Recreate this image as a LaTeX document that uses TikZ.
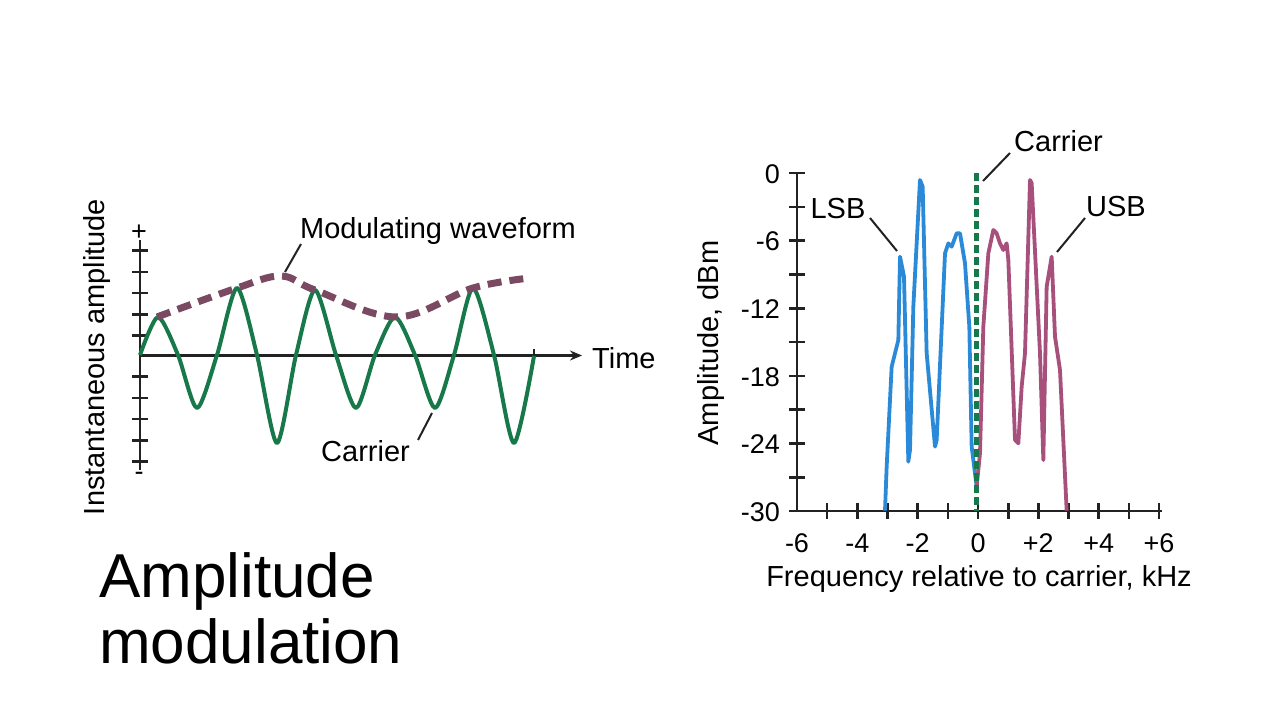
\documentclass[tikz,border=0pt]{standalone}
\usepackage{fontspec}
\setmainfont{Liberation Sans}
\usetikzlibrary{arrows.meta}
\definecolor{carg}{HTML}{17784A}
\definecolor{envc}{HTML}{7A4A62}
\definecolor{lsbc}{HTML}{2A8AD8}
\definecolor{usbc}{HTML}{A8507C}
\definecolor{axc}{HTML}{222222}
\tikzset{lbl/.style={inner sep=0pt,font=\fontsize{29}{33}\selectfont},
 tl/.style={inner sep=0pt,font=\fontsize{27}{31}\selectfont},
 ax/.style={draw=axc,line width=2.6pt},
 lead/.style={draw=axc,line width=2pt}}
\begin{document}
\begin{tikzpicture}[x=1pt,y=-1pt]
\useasboundingbox (0,0) rectangle (1280,720);
% ---------- left plot
\foreach \y in {250.7,271.9,293,314.2,335.3,376.7,397.9,419,440.2,461.4} \draw[ax] (132,\y)--(148,\y);
\draw[ax] (140,240)--(140,470);
\node[tl] (plus) at (139,233) {+};
\node[tl] (minus) at (139,476) {-};
\draw[ax,-{Stealth[length=12pt,width=10pt]}] (140,355.5)--(582,355.5);
\draw[ax] (534,349)--(534,362);
\node[lbl,anchor=west] (time) at (592,358) {Time};
\node[lbl,rotate=90] (inst) at (97,357) {Instantaneous amplitude};
\draw[carg,line width=4pt,line join=round] plot[smooth,tension=0.45] coordinates {(140,355)(158,317)(178,355)(197,408)(217,355)(237,288)(257,355)(277,443)(296,355)(315,290)(336,355)(356,408)(375,355)(395,317)(415,355)(435,408)(454,355)(473,288)(494,355)(514,443)(534,356)};
\draw[envc,line width=7pt,dash pattern=on 14pt off 8pt] plot[smooth,tension=0.6] coordinates {(157,317)(237,288)(281,276)(315,290)(397,317)(473,288)(530,278)};
\node[lbl,anchor=west] (modw) at (300,231) {Modulating waveform};
\coordinate (modp) at (285,272);
\draw[lead] (301,244)--(modp);
\node[lbl,anchor=west] (carl) at (321,451) {Carrier};
\coordinate (carp) at (432,413);
\draw[lead] (418,440)--(carp);
\node[inner sep=0pt,anchor=west,align=left,font=\fontsize{62}{66}\selectfont] (title) at (99,608) {Amplitude\\modulation};
% ---------- right plot
\foreach \i in {0,...,10} \draw[ax] (789,173+\i*33.8)--(805,173+\i*33.8);
\foreach \i in {1,...,12} \draw[ax] (797+\i*30.17,503)--(797+\i*30.17,519);
\draw[ax] (797,173)--(797,511)--(1162,511);
\foreach \v/\i in {0/0,-6/2,-12/4,-18/6,-24/8,-30/10} \node[tl,anchor=east] at (780,174+\i*33.8) {\v};
\foreach \v/\i in {-6/0,-4/2,-2/4,0/6,+2/8,+4/10,+6/12} \node[tl] at (797+\i*30.17,543) {\v};
\node[lbl] (freq) at (979,579) {Frequency relative to carrier, kHz};
\node[lbl,rotate=90] (ampl) at (711,343) {Amplitude, dBm};
\begin{scope}[shift={(700,120)},scale=1/3]
\draw[lsbc,line width=3.8pt,line join=round] plot coordinates {(555,1172)(560,1040)(575,740)(595,660)(600,410)(612,470)(625,1025)(630,990)(640,560)(660,180)(668,200)(680,700)(705,980)(710,960)(735,400)(745,370)(755,380)(770,340)(780,340)(795,430)(808,620)(815,980)(830,1100)};
\draw[usbc,line width=3.8pt,line join=round] plot coordinates {(830,1100)(840,1000)(850,620)(865,400)(880,330)(890,340)(900,370)(910,390)(920,370)(925,420)(945,960)(955,970)(965,800)(975,700)(990,180)(995,190)(1020,700)(1030,1020)(1040,500)(1055,410)(1065,650)(1080,750)(1100,1172)};
\end{scope}
\draw[carg,line width=5pt,dash pattern=on 8pt off 4pt] (976,173)--(976,511);
\node[lbl,anchor=west] (carr) at (1014,141) {Carrier};
\draw[lead] (1010,153)--(983,181);
\node[lbl] (lsb) at (838,209) {LSB};
\draw[lead] (870,218)--(897,251);
\node[lbl] (usb) at (1116,207) {USB};
\draw[lead] (1085,218)--(1057,252);
\end{tikzpicture}
\end{document}
